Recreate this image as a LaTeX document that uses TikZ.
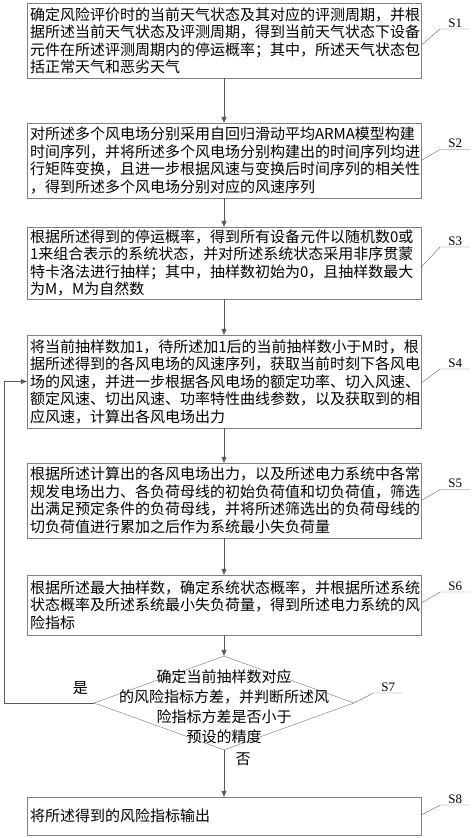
\documentclass[tikz,border=0pt]{standalone}
\usepackage{fontspec}
\setmainfont{Noto Sans CJK SC}
\newfontfamily\labfont{Liberation Serif}
\usetikzlibrary{arrows.meta, positioning, shapes.geometric}

\begin{document}
\begin{tikzpicture}[x=1pt, y=-1pt,
    box/.style={rectangle, draw=black!50, minimum width=394pt, text width=388pt,
                inner xsep=3pt, inner ysep=0pt, font=\fontsize{15}{17.5}\selectfont, align=left},
    decision/.style={diamond, draw=black!55, minimum width=260pt, minimum height=94pt, inner sep=0pt},
    arr/.style={-{Triangle[length=6pt, width=5pt]}, draw=black!65},
    lead/.style={draw=black!60},
    sname/.style={font=\labfont\fontsize{13}{13}\selectfont, above, inner sep=1.5pt},
]
\useasboundingbox (0,0) rectangle (474,838);

\node[box, minimum height=75pt] (s1) at (224,40.5) {确定风险评价时的当前天气状态及其对应的评测周期，并根\\据所述当前天气状态及评测周期，得到当前天气状态下设备\\元件在所述评测周期内的停运概率；其中，所述天气状态包\\括正常天气和恶劣天气};
\node[box, minimum height=75pt] (s2) at (224,160.5) {对所述多个风电场分别采用自回归滑动平均ARMA模型构建\\时间序列，并将所述多个风电场分别构建出的时间序列均进\\行矩阵变换，且进一步根据风速与变换后时间序列的相关性\\，得到所述多个风电场分别对应的风速序列};
\node[box, minimum height=72pt] (s3) at (224,263) {根据所述得到的停运概率，得到所有设备元件以随机数0或\\1来组合表示的系统状态，并对所述系统状态采用非序贯蒙\\特卡洛法进行抽样；其中，抽样数初始为0，且抽样数最大\\为M，M为自然数};
\node[box, minimum height=93pt] (s4) at (224,381.5) {将当前抽样数加1，待所述加1后的当前抽样数小于M时，根\\据所述得到的各风电场的风速序列，获取当前时刻下各风电\\场的风速，并进一步根据各风电场的额定功率、切入风速、\\额定风速、切出风速、功率特性曲线参数，以及获取到的相\\应风速，计算出各风电场出力};
\node[box, minimum height=75pt] (s5) at (224,500.5) {根据所述计算出的各风电场出力，以及所述电力系统中各常\\规发电场出力、各负荷母线的初始负荷值和切负荷值，筛选\\出满足预定条件的负荷母线，并将所述筛选出的负荷母线的\\切负荷值进行累加之后作为系统最小失负荷量};
\node[box, minimum height=60pt] (s6) at (224,605) {根据所述最大抽样数，确定系统状态概率，并根据所述系统\\状态概率及所述系统最小失负荷量，得到所述电力系统的风\\险指标};
\node[decision] (s7) at (224,703) {};
\node[font=\fontsize{15}{20}\selectfont, align=center] (s7text) at ([yshift=-4pt]s7.center) {确定当前抽样数对应\\的风险指标方差，并判断所述风\\险指标方差是否小于\\预设的精度};
\node[box, minimum height=38pt] (s8) at (224,816) {将所述得到的风险指标输出};
\coordinate (back) at (4,703);

\draw[arr] (s1) -- (s2);
\draw[arr] (s2) -- (s3);
\draw[arr] (s3) -- (s4);
\draw[arr] (s4) -- (s5);
\draw[arr] (s5) -- (s6);
\draw[arr] (s6) -- (s7);
\draw[arr] (s7) -- node[pos=0.2, right=8pt, font=\fontsize{15}{15}\selectfont]{否} (s8);
\draw[arr] (s7.west) -- node[pos=0.15, above=5pt, font=\fontsize{15}{15}\selectfont]{是} (back) |- (s4.west);

\foreach \n/\t/\sy/\dy in {s1/S1/4.5/-16, s2/S2/0/-11, s3/S3/4/-20, s4/S4/1.5/-14,
                           s5/S5/0/-11, s6/S6/-2/-11, s7/S7/0/-10, s8/S8/-1/-10}
  \draw[lead] (\n.east) ++(0,\sy) -- ++(19,\dy) -- ++(30,0) node[sname, midway]{\t};
\end{tikzpicture}
\end{document}
